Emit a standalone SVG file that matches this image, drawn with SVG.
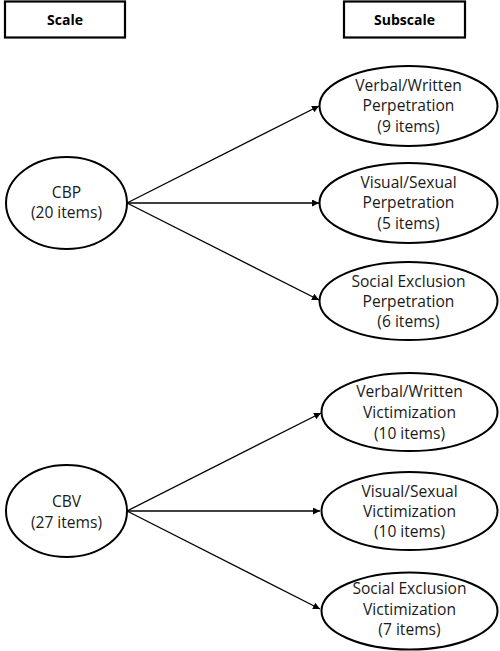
<svg xmlns="http://www.w3.org/2000/svg" width="500" height="651" viewBox="0 0 500 651">
<defs>
<marker id="arr" viewBox="0 0 10 10" refX="10" refY="5" markerWidth="7" markerHeight="7" markerUnits="userSpaceOnUse" orient="auto">
<path d="M0,0 L10,5 L0,10 z" fill="#000"/>
</marker>
<style>
.box{fill:#fff;stroke:#000;stroke-width:2.2}
.ell{fill:#fff;stroke:#000;stroke-width:2}
.t{font-family:"Open Sans","Liberation Sans",sans-serif;font-size:15.6px;fill:#1a1a1a;text-anchor:middle}
.h{font-family:"Open Sans","Liberation Sans",sans-serif;font-size:14px;font-weight:bold;fill:#000;text-anchor:middle}
.c{stroke:#000;stroke-width:1.3;fill:none;marker-end:url(#arr)}
</style>
</defs>
<rect width="500" height="651" fill="#fff"/>
<g id="scale-header"><rect class="box" x="5" y="1.5" width="120" height="36"/><text class="h" x="65" y="25">Scale</text></g>
<g id="subscale-header"><rect class="box" x="344" y="1.5" width="121" height="36"/><text class="h" x="404.5" y="25">Subscale</text></g>
<g id="connectors">
<line class="c" x1="127" y1="203" x2="319" y2="106"/>
<line class="c" x1="127" y1="203" x2="319" y2="203"/>
<line class="c" x1="127" y1="203" x2="319" y2="300"/>
<line class="c" x1="127" y1="511" x2="321" y2="413"/>
<line class="c" x1="127" y1="511" x2="320" y2="511"/>
<line class="c" x1="127" y1="511" x2="320" y2="609"/>
</g>
<g id="cbp"><ellipse class="ell" cx="66.5" cy="203" rx="60.5" ry="46"/><text class="t" x="66.5" y="198">CBP</text><text class="t" x="66.5" y="218">(20 items)</text></g>
<g id="cbv"><ellipse class="ell" cx="66.5" cy="511" rx="60.5" ry="46"/><text class="t" x="66.5" y="507">CBV</text><text class="t" x="66.5" y="528">(27 items)</text></g>
<g id="vw-perp"><ellipse class="ell" cx="408.5" cy="106" rx="89" ry="40"/><text class="t" x="408.5" y="91">Verbal/Written</text><text class="t" x="408.5" y="111">Perpetration</text><text class="t" x="408.5" y="132">(9 items)</text></g>
<g id="vs-perp"><ellipse class="ell" cx="408.5" cy="203" rx="89" ry="40"/><text class="t" x="408.5" y="188">Visual/Sexual</text><text class="t" x="408.5" y="208">Perpetration</text><text class="t" x="408.5" y="229">(5 items)</text></g>
<g id="se-perp"><ellipse class="ell" cx="408.5" cy="301" rx="89" ry="39"/><text class="t" x="408.5" y="287">Social Exclusion</text><text class="t" x="408.5" y="307">Perpetration</text><text class="t" x="408.5" y="327">(6 items)</text></g>
<g id="vw-vict"><ellipse class="ell" cx="409.5" cy="412" rx="88" ry="39"/><text class="t" x="409.5" y="397">Verbal/Written</text><text class="t" x="409.5" y="418">Victimization</text><text class="t" x="409.5" y="439">(10 items)</text></g>
<g id="vs-vict"><ellipse class="ell" cx="409.5" cy="511" rx="88" ry="39"/><text class="t" x="409.5" y="497">Visual/Sexual</text><text class="t" x="409.5" y="517">Victimization</text><text class="t" x="409.5" y="537">(10 items)</text></g>
<g id="se-vict"><ellipse class="ell" cx="409.5" cy="611" rx="88" ry="38.5"/><text class="t" x="409.5" y="594">Social Exclusion</text><text class="t" x="409.5" y="615">Victimization</text><text class="t" x="409.5" y="635">(7 items)</text></g>
</svg>
